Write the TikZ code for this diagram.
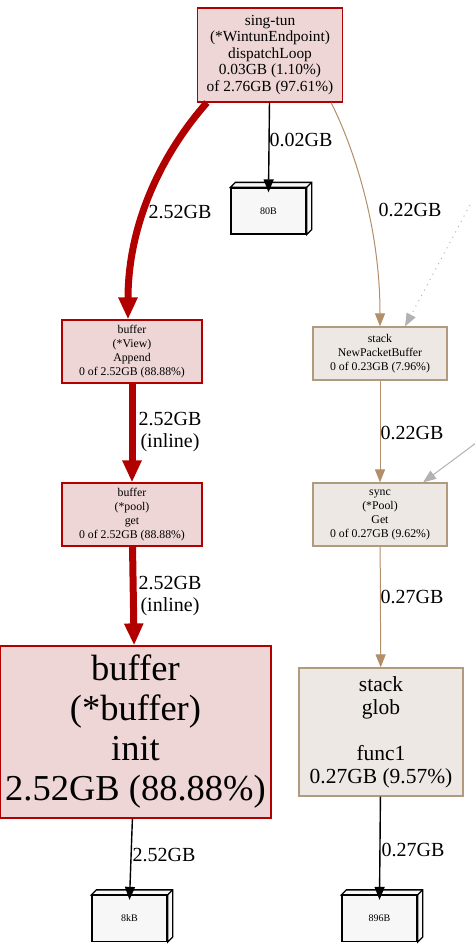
\documentclass[tikz,border=0pt]{standalone}
\usepackage{fontspec}
\setmainfont{Liberation Serif}
\newfontfamily\timesfont{Liberation Serif}
\usetikzlibrary{arrows.meta,positioning}
\definecolor{hotred}{HTML}{B20000}
\definecolor{hotfill}{HTML}{EDD6D5}
\definecolor{warmtan}{HTML}{B28F68}
\definecolor{warmline}{HTML}{B29A7E}
\definecolor{warmfill}{HTML}{EDE8E3}
\definecolor{coldgrey}{HTML}{B2B2B2}
\begin{document}
\begin{tikzpicture}[
  x=1pt, y=-1pt,
  fn/.style={draw, align=center, inner sep=0pt, line width=1.2pt},
  hot/.style={fn, draw=hotred, fill=hotfill},
  warm/.style={fn, draw=warmline, fill=warmfill},
  small/.style={font=\timesfont\fontsize{11.8}{14}\selectfont},
  cube/.style={draw, fill=black!3, line width=1.3pt, minimum width=75pt,
               minimum height=46pt, inner sep=0pt,
               font=\timesfont\fontsize{10}{12}\selectfont},
  elab/.style={font=\timesfont\fontsize{20}{22}\selectfont, align=center},
  ar/.style={-{Triangle[length=13pt, width=10pt]}, line width=1.4pt},
  fat/.style={-{Triangle[length=22pt, width=18pt]}, line width=7pt, draw=hotred}
]
  \useasboundingbox (0,0) rectangle (474,945);

  % function nodes
  \node[hot, minimum width=145pt, minimum height=94pt,
        font=\timesfont\fontsize{15.4}{16.5}\selectfont] (loop) at (270,55)
    {sing-tun\\(*WintunEndpoint)\\dispatchLoop\\0.03GB (1.10\%)\\of 2.76GB (97.61\%)};
  \node[hot, small, minimum width=140pt, minimum height=63pt] (append) at (132,351.5)
    {buffer\\(*View)\\Append\\0 of 2.52GB (88.88\%)};
  \node[hot, small, minimum width=140pt, minimum height=63pt] (get) at (132,514.5)
    {buffer\\(*pool)\\get\\0 of 2.52GB (88.88\%)};
  \node[hot, minimum width=271pt, minimum height=172pt,
        font=\timesfont\fontsize{36.5}{40}\selectfont] (init) at (135.5,732)
    {buffer\\(*buffer)\\init\\2.52GB (88.88\%)};

  \node[warm, small, minimum width=134pt, minimum height=53pt] (newpkt) at (380,353.5)
    {stack\\NewPacketBuffer\\0 of 0.23GB (7.96\%)};
  \node[warm, small, minimum width=134pt, minimum height=63pt] (pool) at (380,514.5)
    {sync\\(*Pool)\\Get\\0 of 0.27GB (9.62\%)};
  \node[warm, minimum width=164pt, minimum height=128pt,
        font=\timesfont\fontsize{21.5}{23}\selectfont] (glob) at (381,732)
    {stack\\glob\\[23pt]func1\\0.27GB (9.57\%)};

  % allocation boxes
  \node[cube] (b80) at (268.5,211) {80B};
  \node[cube] (b8k) at (129.5,918.5) {8kB};
  \node[cube] (b896) at (379.5,918.5) {896B};
  \foreach \b in {b80,b8k,b896}{
    \draw[line width=1.3pt, fill=black!3] (\b.north west) -- ++(5,-5)
      -- ([shift={(5,-5)}]\b.north east) -- ([shift={(5,-5)}]\b.south east)
      -- (\b.south east) -- (\b.north east) -- cycle;
    \draw[line width=1.3pt] (\b.north east) -- ++(5,-5);
  }

  % outside callers
  \coordinate (far1) at (470,205);
  \coordinate (far2) at (476,443);

  % edges
  \draw[fat] ([xshift=10pt]loop.south west)
    .. controls (165,150) and (128,220) .. ([xshift=-4pt]append.north);
  \draw[fat] (append) -- (get);
  \draw[fat] (get) -- (init);
  \draw[ar] (loop) -- ([yshift=-5pt]b80.north);
  \draw[ar] (init) -- ([yshift=-5pt]b8k.north);
  \draw[ar, line width=1pt, draw=warmtan] ([xshift=-12pt]loop.south east)
    .. controls (350,140) and (380,220) .. (newpkt.north);
  \draw[ar, line width=1pt, draw=warmtan] (newpkt) -- (pool);
  \draw[ar, line width=1pt, draw=warmtan] (pool) -- (glob);
  \draw[ar] (glob) -- ([yshift=-5pt]b896.north);
  \draw[ar, line width=1pt, draw=coldgrey, dash pattern=on 1pt off 5pt]
    (far1) -- ([xshift=25pt]newpkt.north);
  \draw[ar, line width=1pt, draw=coldgrey] (far2) -- ([xshift=43pt]pool.north);

  % edge labels
  \node[elab] (l1) at (180,212) {2.52GB};
  \node[elab] (l2) at (301,140) {0.02GB};
  \node[elab] (l3) at (410,210) {0.22GB};
  \node[elab] (l4) at (170,432) {2.52GB\\(inline)};
  \node[elab] (l5) at (412,433) {0.22GB};
  \node[elab] (l6) at (170,596) {2.52GB\\(inline)};
  \node[elab] (l7) at (412,597) {0.27GB};
  \node[elab] (l8) at (164,855) {2.52GB};
  \node[elab] (l9) at (413,850) {0.27GB};
\end{tikzpicture}
\end{document}
